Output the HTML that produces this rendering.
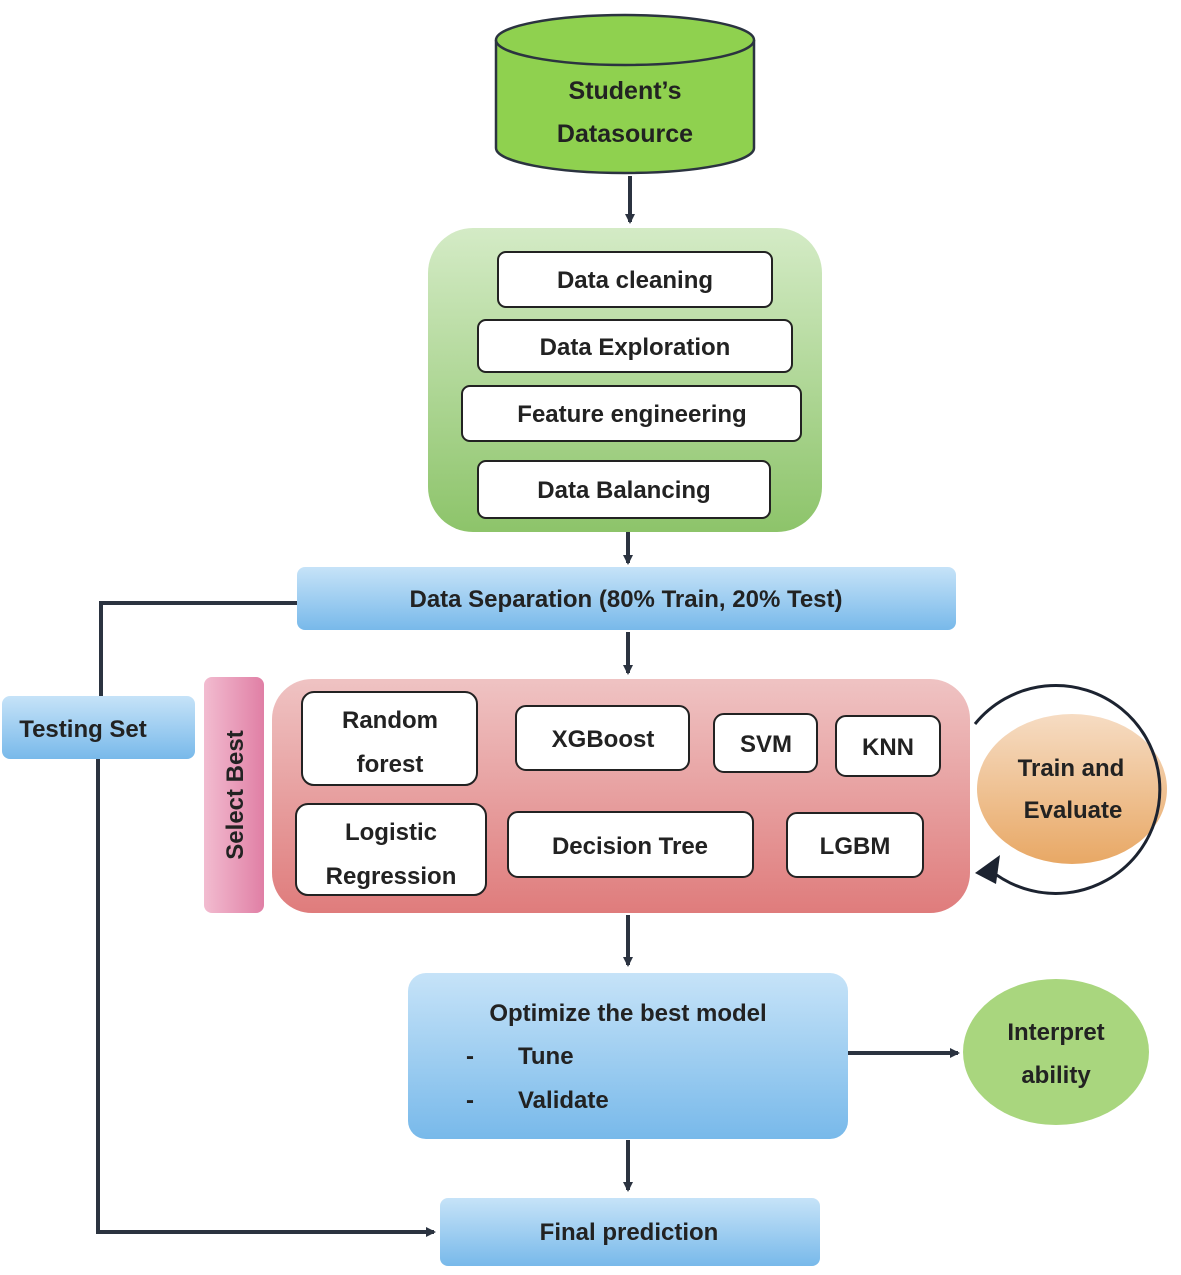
<!DOCTYPE html>
<html><head><meta charset="utf-8"><style>html,body{margin:0;padding:0;background:#fff}</style></head><body>
<svg width="1181" height="1270" xmlns="http://www.w3.org/2000/svg" font-family="Liberation Sans, sans-serif" font-weight="bold">
<defs>
<linearGradient id="gr" x1="0" y1="0" x2="0" y2="1"><stop offset="0" stop-color="#d4ebc6"/><stop offset="1" stop-color="#8dc46a"/></linearGradient>
<linearGradient id="bl" x1="0" y1="0" x2="0" y2="1"><stop offset="0" stop-color="#c6e3f8"/><stop offset="1" stop-color="#78b9ea"/></linearGradient>
<linearGradient id="rd" x1="0" y1="0" x2="0" y2="1"><stop offset="0" stop-color="#efc3c3"/><stop offset="1" stop-color="#df7c7c"/></linearGradient>
<linearGradient id="pk" x1="0" y1="0" x2="1" y2="0"><stop offset="0" stop-color="#f2bcd0"/><stop offset="1" stop-color="#e07fa5"/></linearGradient>
<linearGradient id="or" x1="0" y1="0" x2="0" y2="1"><stop offset="0" stop-color="#f6dcc3"/><stop offset="1" stop-color="#e8a865"/></linearGradient>
<marker id="ah" markerWidth="10" markerHeight="10" refX="8" refY="5" orient="auto" markerUnits="userSpaceOnUse"><path d="M0,0 L10,5 L0,10 z" fill="#2b3340"/></marker>
</defs>
<g stroke="#2b3340" stroke-width="4" fill="none">
<line x1="630" y1="176" x2="630" y2="222" marker-end="url(#ah)"/>
<line x1="628" y1="532" x2="628" y2="563" marker-end="url(#ah)"/>
<line x1="628" y1="632" x2="628" y2="673" marker-end="url(#ah)"/>
<line x1="628" y1="915" x2="628" y2="965" marker-end="url(#ah)"/>
<line x1="848" y1="1053" x2="958" y2="1053" marker-end="url(#ah)"/>
<line x1="628" y1="1140" x2="628" y2="1190" marker-end="url(#ah)"/>
<polyline points="297,603 101,603 101,697"/>
<polyline points="98,759 98,1232 434,1232" marker-end="url(#ah)"/>
</g>
<!-- cylinder -->
<path d="M496,40 L496,148 A129,25 0 0 0 754,148 L754,40" fill="#8fd14f" stroke="#2b3340" stroke-width="2.5"/>
<ellipse cx="625" cy="40" rx="129" ry="25" fill="#8fd14f" stroke="#2b3340" stroke-width="2.5"/>
<g font-size="25" fill="#222" text-anchor="middle">
<text x="625" y="99">Student’s</text><text x="625" y="142">Datasource</text>
</g>
<rect x="428" y="228" width="394" height="304" rx="45" fill="url(#gr)"/>
<g fill="#fff" stroke="#222" stroke-width="2">
<rect x="498" y="252" width="274" height="55" rx="8"/>
<rect x="478" y="320" width="314" height="52" rx="8"/>
<rect x="462" y="386" width="339" height="55" rx="8"/>
<rect x="478" y="461" width="292" height="57" rx="8"/>
</g>
<g font-size="24" fill="#222" text-anchor="middle">
<text x="635" y="288">Data cleaning</text>
<text x="635" y="355">Data Exploration</text>
<text x="632" y="422">Feature engineering</text>
<text x="624" y="498">Data Balancing</text>
</g>
<rect x="297" y="567" width="659" height="63" rx="8" fill="url(#bl)"/>
<text x="626" y="607" font-size="24" fill="#222" text-anchor="middle">Data Separation (80% Train, 20% Test)</text>
<rect x="2" y="696" width="193" height="63" rx="8" fill="url(#bl)"/>
<text x="83" y="737" font-size="24" fill="#222" text-anchor="middle">Testing Set</text>
<rect x="204" y="677" width="60" height="236" rx="8" fill="url(#pk)"/>
<text transform="translate(243,795) rotate(-90)" font-size="24" fill="#222" text-anchor="middle">Select Best</text>
<rect x="272" y="679" width="698" height="234" rx="40" fill="url(#rd)"/>
<g fill="#fff" stroke="#222" stroke-width="2">
<rect x="302" y="692" width="175" height="93" rx="12"/>
<rect x="516" y="706" width="173" height="64" rx="10"/>
<rect x="714" y="714" width="103" height="58" rx="10"/>
<rect x="836" y="716" width="104" height="60" rx="10"/>
<rect x="296" y="804" width="190" height="91" rx="12"/>
<rect x="508" y="812" width="245" height="65" rx="10"/>
<rect x="787" y="813" width="136" height="64" rx="10"/>
</g>
<g font-size="24" fill="#222" text-anchor="middle">
<text x="390" y="728">Random</text><text x="390" y="772">forest</text>
<text x="603" y="747">XGBoost</text>
<text x="766" y="752">SVM</text>
<text x="888" y="755">KNN</text>
<text x="391" y="840">Logistic</text><text x="391" y="884">Regression</text>
<text x="630" y="854">Decision Tree</text>
<text x="855" y="854">LGBM</text>
</g>
<ellipse cx="1072" cy="789" rx="95" ry="75" fill="url(#or)"/>
<g font-size="24" fill="#222" text-anchor="middle"><text x="1071" y="776">Train and</text><text x="1073" y="818">Evaluate</text></g>
<path d="M975,724 A104,104 0 1 1 990,870" fill="none" stroke="#1c2330" stroke-width="3"/>
<path d="M975,873 L1000,855 L996,884 z" fill="#1c2330"/>
<rect x="408" y="973" width="440" height="166" rx="18" fill="url(#bl)"/>
<g font-size="24" fill="#222">
<text x="628" y="1021" text-anchor="middle">Optimize the best model</text>
<text x="466" y="1064">-</text><text x="518" y="1064">Tune</text>
<text x="466" y="1108">-</text><text x="518" y="1108">Validate</text>
</g>
<ellipse cx="1056" cy="1052" rx="93" ry="73" fill="#a9d67e"/>
<g font-size="24" fill="#222" text-anchor="middle"><text x="1056" y="1040">Interpret</text><text x="1056" y="1083">ability</text></g>
<rect x="440" y="1198" width="380" height="68" rx="8" fill="url(#bl)"/>
<text x="629" y="1240" font-size="24" fill="#222" text-anchor="middle">Final prediction</text>
</svg>
</body></html>
